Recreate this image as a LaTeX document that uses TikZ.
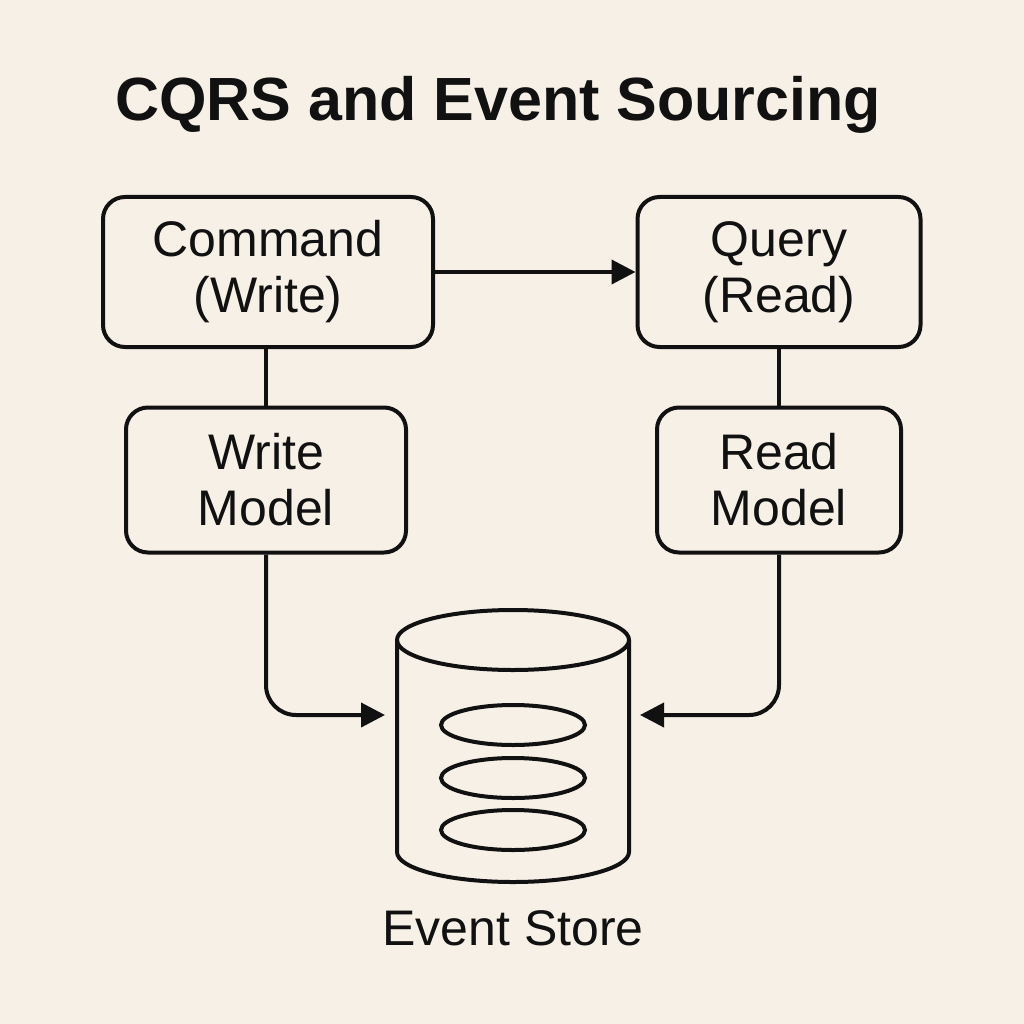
\documentclass[tikz,border=0pt]{standalone}
\usepackage{fontspec}
\setmainfont{Liberation Sans}
\usetikzlibrary{arrows.meta}
\definecolor{bg}{HTML}{F7F0E6}
\definecolor{ink}{HTML}{111111}
\begin{document}
\begin{tikzpicture}[x=1pt,y=-1pt,
  box/.style={draw=ink,line width=4pt,rounded corners=22pt,align=center,font=\fontsize{50}{56}\selectfont,text=ink},
  conn/.style={draw=ink,line width=4pt},
  arr/.style={conn,-{Triangle[length=24pt,width=24pt]}}]
\fill[bg] (0,0) rectangle (1024,1024);
\useasboundingbox (0,0) rectangle (1024,1024);
\node[font=\bfseries\fontsize{61}{68}\selectfont,text=ink] (title) at (498,105) {CQRS and Event Sourcing};
\node[box,minimum width=330pt,minimum height=150pt] (cmd) at (268,272) {Command\\(Write)};
\node[box,minimum width=283pt,minimum height=150pt] (qry) at (779,272) {Query\\(Read)};
\node[box,minimum width=280pt,minimum height=145pt] (wm) at (266,480) {Write\\Model};
\node[box,minimum width=244pt,minimum height=145pt] (rm) at (779,480) {Read\\Model};
\coordinate (sl) at (385,715);
\coordinate (sr) at (640,715);
\draw[conn] (cmd.south -| wm) -- (wm.north);
\draw[conn] (qry.south) -- (rm.north);
\draw[arr] (cmd.east) -- (qry.west);
\draw[arr,rounded corners=30pt] (wm.south) |- (sl);
\draw[arr,rounded corners=30pt] (rm.south) |- (sr);
% cylinder
\draw[conn] (513,640) ellipse [x radius=116, y radius=30];
\draw[conn] (397,640) -- (397,852) arc[start angle=180,end angle=0,x radius=116,y radius=30] -- (629,640);
\foreach \yy in {725,778,830}
  \draw[conn] (513,\yy) ellipse [x radius=72, y radius=20];
\node[font=\fontsize{50}{56}\selectfont,text=ink] (es) at (513,928) {Event Store};
\end{tikzpicture}
\end{document}
